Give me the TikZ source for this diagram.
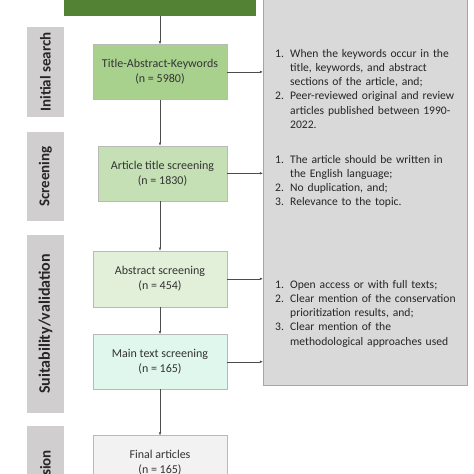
\documentclass[tikz,border=0pt]{standalone}
\usepackage{fontspec}
\setmainfont{Carlito}
\usetikzlibrary{shapes,arrows,arrows.meta,positioning,calc}

\definecolor{bardark}{HTML}{548235}
\definecolor{stageone}{HTML}{A9D18E}
\definecolor{stagetwo}{HTML}{C5E0B4}
\definecolor{stagethree}{HTML}{E2F0D9}
\definecolor{stagefour}{HTML}{DFF7EC}
\definecolor{stagefive}{HTML}{F2F2F2}
\definecolor{phasegray}{HTML}{D0CECE}
\definecolor{critgray}{HTML}{D9D9D9}

\tikzset{
  stage/.style={rectangle, draw=gray!55, minimum width=134pt, minimum height=55pt, align=center, font=\fontsize{12}{15}\selectfont, text=black!80},
  phase/.style={rectangle, fill=phasegray, rotate=90, minimum height=37pt, font=\fontsize{15}{16}\selectfont\bfseries, text=black!85},
  crit/.style={anchor=north west, inner sep=0pt, text width=200pt, align=left, font=\fontsize{11.6}{14.2}\selectfont, text=black!85},
  flow/.style={draw=black!70, -{Latex[length=3pt,width=2.5pt]}}
}
\newcommand{\critem}[2]{\hangindent=15pt\hangafter=1\noindent\makebox[15pt][l]{#1}#2\par}

\begin{document}
\begin{tikzpicture}[x=1pt, y=-1pt]
\clip (0,0) rectangle (474,474);
% phases
\node[phase, minimum width=90pt] (ph1) at (45.5,72) {Initial search};
\node[phase, minimum width=89pt] (ph2) at (45.5,176.5) {Screening};
\node[phase, minimum width=178pt, font=\fontsize{16}{17}\selectfont\bfseries] (ph3) at (45.5,324) {Suitability/validation};
\node[phase, minimum width=104pt] (ph4) at (45.5,478) {Inclusion};

% stages
\node[stage, fill=bardark, draw=none, minimum width=192pt, minimum height=46pt] (idn) at (160,-7) {};
\node[stage, fill=stageone, below=28pt of idn] (t1) {Title-Abstract-Keywords\\(n = 5980)};
\node[stage, fill=stagetwo, minimum width=129pt, below left=46pt and 0pt of t1.south east] (t2) {Article title screening\\(n = 1830)};
\node[stage, fill=stagethree, minimum height=56pt, below=151pt of t1] (t3) {Abstract screening\\(n = 454)};
\node[stage, fill=stagefour, below=27pt of t3] (t4) {Main text screening\\(n = 165)};
\node[stage, fill=stagefive, below=46pt of t4] (t5) {Final articles\\(n = 165)};

% criteria
\node[rectangle, draw=gray!70, fill=critgray, minimum width=204pt, minimum height=395pt] (cbox) at (365,187.5) {};
\node[crit] (c1) at (275,49) {%
  \critem{1.}{When the keywords occur in the\newline title, keywords, and abstract\newline sections of the article, and;}
  \critem{2.}{Peer-reviewed original and review\newline articles published between 1990-\newline 2022.}};
\node[crit] (c2) at (275,155) {%
  \critem{1.}{The article should be written in\newline the English language;}
  \critem{2.}{No duplication, and;}
  \critem{3.}{Relevance to the topic.}};
\node[crit] (c3) at (275,280) {%
  \critem{1.}{Open access or with full texts;}
  \critem{2.}{Clear mention of the conservation\newline prioritization results, and;}
  \critem{3.}{Clear mention of the\newline methodological approaches used}};

% connectors
\draw[flow] (idn) -- (t1);
\draw[flow] (t1) -- (t1 |- t2.north);
\draw[flow] (t1 |- t2.south) -- (t3);
\draw[flow] (t3) -- (t4);
\draw[flow] (t4) -- (t5);
\foreach \s in {t1,t2,t3,t4}
  \draw[flow] (\s) -- (\s -| cbox.west);
\end{tikzpicture}
\end{document}
